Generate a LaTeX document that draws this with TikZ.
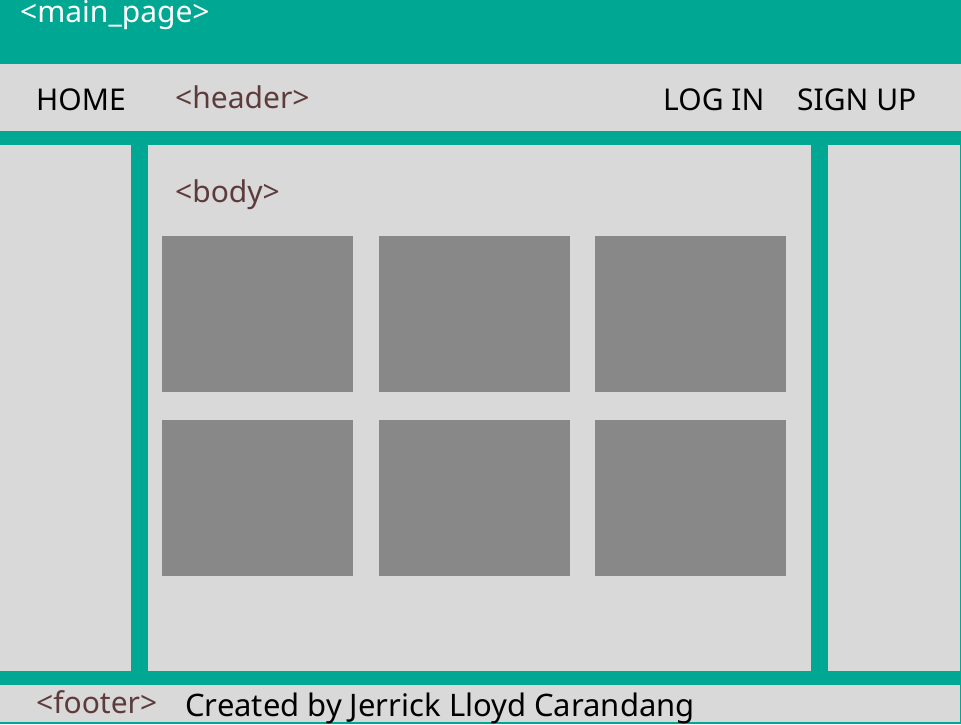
\documentclass[tikz,border=0pt]{standalone}
\usepackage{fontspec}
\setmainfont{Noto Sans}
\definecolor{pageteal}{RGB}{0,168,147}
\definecolor{panelgray}{RGB}{217,217,217}
\definecolor{tilegray}{RGB}{136,136,136}
\definecolor{tagbrown}{RGB}{94,59,59}
\begin{document}
\begin{tikzpicture}[x=1pt, y=-1pt,
    txt/.style={anchor=base west, inner sep=0pt, font=\fontsize{30}{34}\selectfont},
    tag/.style={txt, text=tagbrown}]
    \useasboundingbox (0,0) rectangle (961,724);
    \fill[pageteal] (0,0) rectangle (961,724);
    % header, side bars, body, footer
    \fill[panelgray] (0,64) rectangle (961,131);
    \fill[panelgray] (0,145) rectangle (131,671);
    \fill[panelgray] (148,145) rectangle (811,671);
    \fill[panelgray] (828,145) rectangle (960,671);
    \fill[panelgray] (0,685) rectangle (960,722);
    % tiles
    \foreach \x in {162,379,595}
        \foreach \y in {236,420}
            \fill[tilegray] (\x,\y) rectangle +(191,156);
    \node[txt, text=white] (mainpage) at (20,22) {<main\_page>};
    \node[txt] (home) at (36,110) {HOME};
    \node[tag] (header) at (175,108) {<header>};
    \node[txt] (login) at (663,110) {LOG IN};
    \node[txt] (signup) at (797,110) {SIGN UP};
    \node[tag] (body) at (175,202) {<body>};
    \node[tag] (footer) at (36,713) {<footer>};
    \node[txt, font=\fontsize{31}{34}\selectfont] (credit) at (185,716) {Created by Jerrick Lloyd Carandang};
\end{tikzpicture}
\end{document}
